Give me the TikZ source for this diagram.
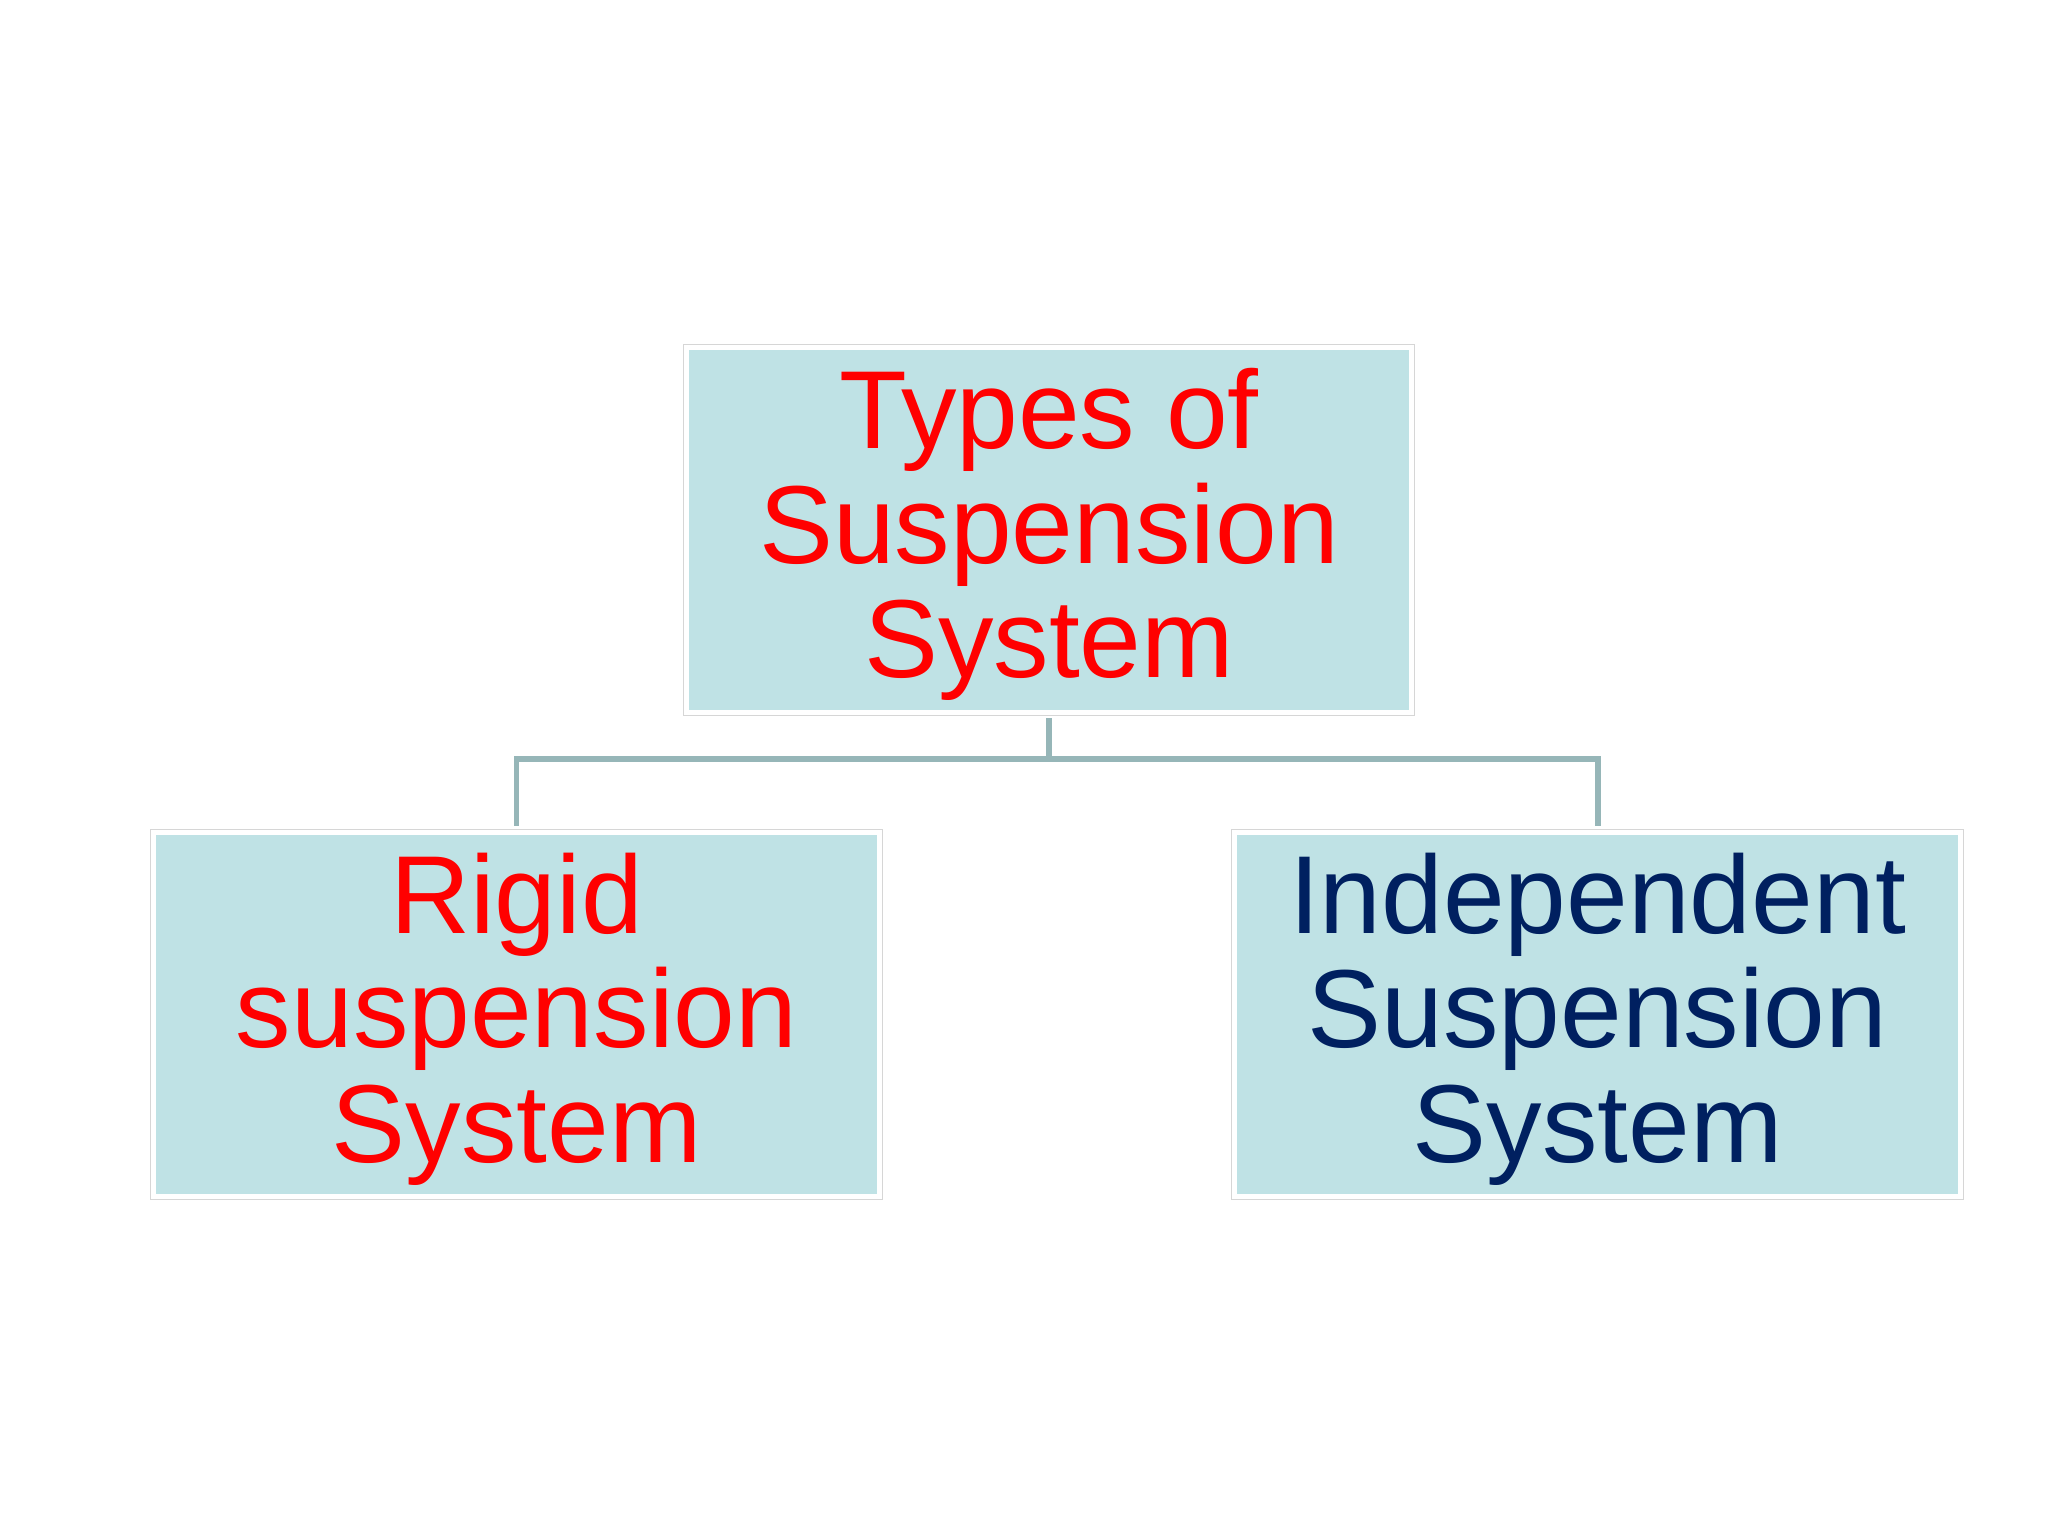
\documentclass[tikz,border=0pt]{standalone}
\usepackage{fontspec}
\setmainfont{Liberation Sans}
\definecolor{boxfill}{RGB}{191,226,229}
\definecolor{boxline}{RGB}{214,214,214}
\definecolor{conn}{RGB}{150,182,184}
\definecolor{navy}{RGB}{0,32,96}
\definecolor{txtred}{RGB}{255,0,0}
\begin{document}
\begin{tikzpicture}[x=0.3515625pt,y=-0.3515625pt,
  box/.style={rectangle, fill=boxfill, draw=white, line width=1.76pt,
    preaction={draw=boxline, line width=2.46pt},
    minimum width=255.2pt, minimum height=128pt, inner sep=0pt},
  boxtext/.style={inner sep=0pt, align=center, yshift=-1.6pt,
    font=\fontsize{39}{40.3}\selectfont},
  link/.style={draw=conn, line width=2.1pt, shorten <=1.3pt, shorten >=1.3pt}]
\fill[white] (0,0) rectangle (2048,1536);
\useasboundingbox (0,0) rectangle (2048,1536);
\node[box] (top) at (1049,530) {};
\node[box] (rigid) at (516.5,1014.5) {};
\node[box] (indep) at (1597.5,1014.5) {};
\node[boxtext, text=txtred] (toptext) at (top.center) {Types of\\Suspension\\System};
\node[boxtext, text=txtred] (rigidtext) at (rigid.center) {Rigid\\suspension\\System};
\node[boxtext, text=navy] (indeptext) at (indep.center) {Independent\\Suspension\\System};
\draw[link] (top.south) -- ++(0,44) -| (rigid.north);
\draw[link] (top.south) -- ++(0,44) -| (indep.north);
\end{tikzpicture}
\end{document}
